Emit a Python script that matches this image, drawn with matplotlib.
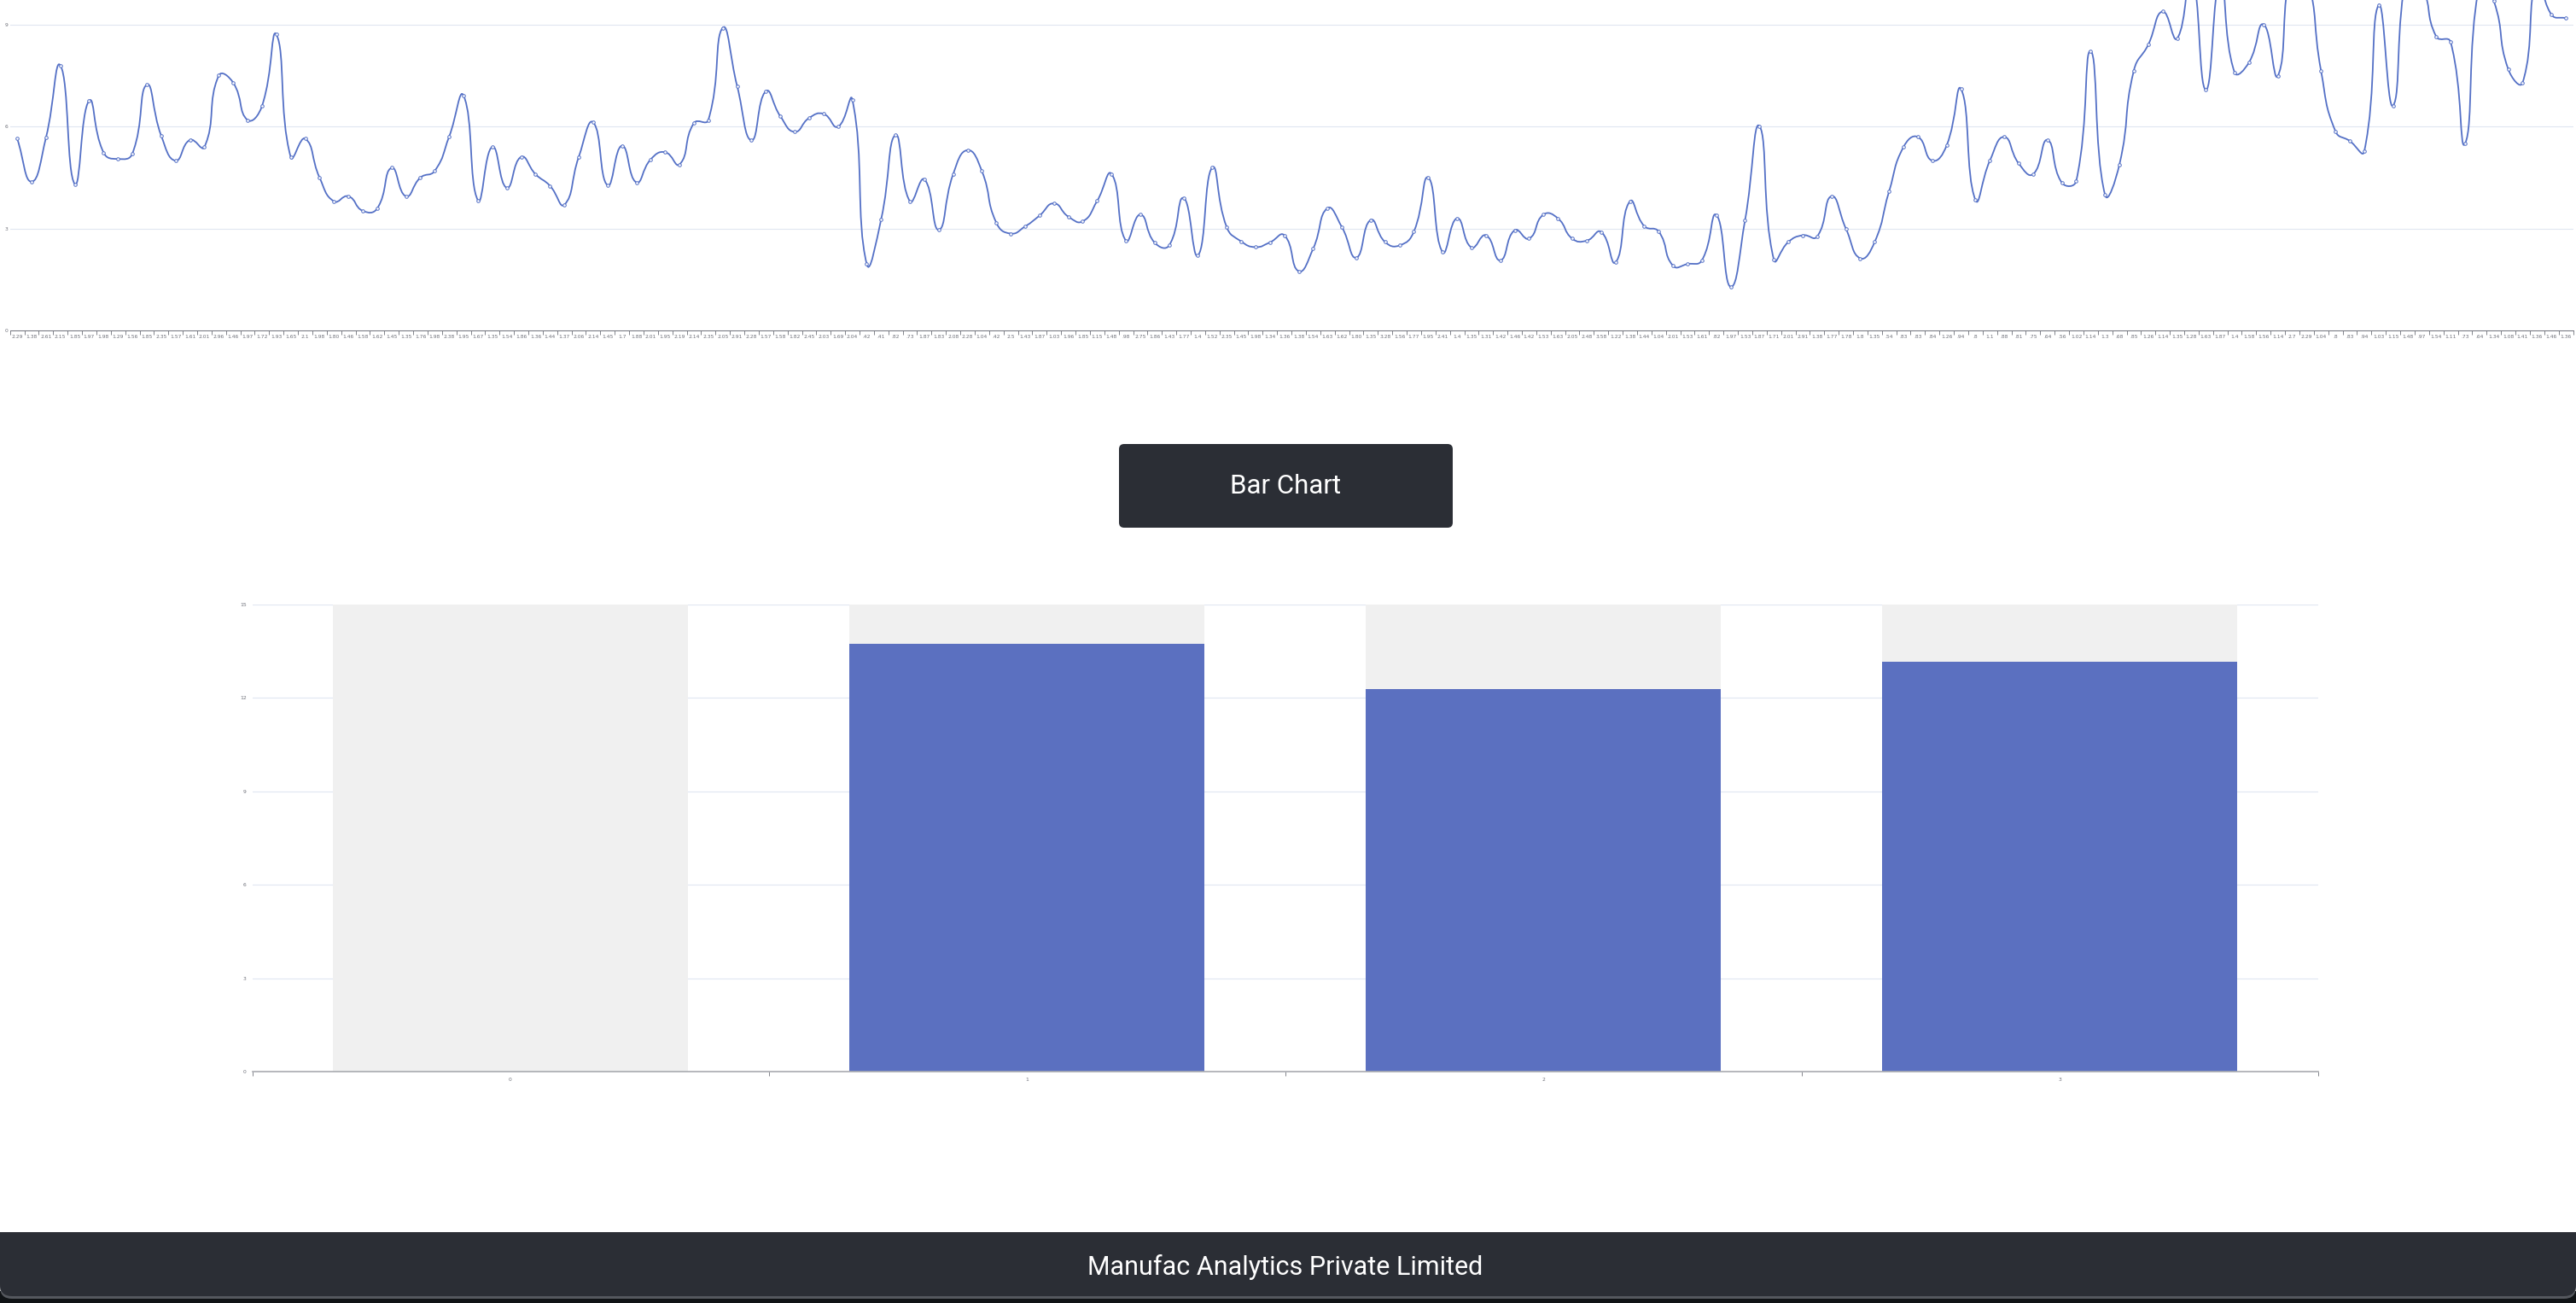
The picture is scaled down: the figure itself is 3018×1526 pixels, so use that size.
import numpy as np
import matplotlib
matplotlib.use("Agg")
import matplotlib.pyplot as plt
from matplotlib.path import Path
from matplotlib.patches import PathPatch, FancyBboxPatch, Rectangle

# line chart data (x categories are the labels under the axis)
line_labels = [
    "2.29", "1.38", "2.61", "2.15", "1.85", "1.97", "1.98", "1.29", "1.56", "1.85",
    "2.35", "1.57", "1.61", "2.01", "2.96", "1.46", "1.97", "1.72", "1.93", "1.65",
    "2.1", "1.98", "1.80", "1.46", "1.58", "1.62", "1.45", "1.35", "1.76", "1.98",
    "2.38", "1.95", "1.67", "1.35", "1.54", "1.86", "1.36", "1.44", "1.37", "2.06",
    "2.14", "1.45", "1.7", "1.88", "2.01", "1.95", "2.19", "2.14", "2.35", "2.05",
    "2.91", "2.28", "1.57", "1.58", "1.82", "2.45", "2.03", "1.69", "2.04", ".42",
    ".41", ".82", ".73", "1.87", "1.83", "2.08", "2.28", "1.04", ".42", "2.5",
    "1.43", "1.87", "1.03", "1.96", "1.85", "1.15", "1.48", ".98", "2.75", "1.86",
    "1.43", "1.77", "1.4", "1.52", "2.35", "1.45", "1.98", "1.34", "1.36", "1.38",
    "1.54", "1.63", "1.62", "1.80", "1.35", "3.28", "1.56", "1.77", "1.95", "2.41",
    "1.4", "1.35", "1.31", "1.42", "1.46", "1.42", "1.53", "1.63", "2.05", "2.48",
    "3.58", "1.22", "1.38", "1.44", "1.04", "2.01", "1.53", "1.61", ".82", "1.97",
    "1.53", "1.87", "1.71", "2.01", "2.91", "1.38", "1.77", "1.78", "1.8", "1.35",
    ".54", ".83", ".83", ".84", "1.26", ".94", ".8", "1.1", ".88", ".81",
    ".75", ".64", ".56", "1.02", "1.14", "1.3", ".68", ".85", "1.26", "1.14",
    "1.35", "1.28", "1.63", "1.87", "1.4", "1.58", "1.56", "1.14", "2.7", "2.29",
    "1.04", ".8", ".83", ".94", "1.03", "1.15", "1.48", ".97", "1.54", "1.11",
    ".73", ".64", "1.34", "1.08", "1.41", "1.36", "1.46", "1.36",
]
line_values = [
    5.65, 4.38, 5.68, 7.81, 4.31, 6.77, 5.24, 5.05, 5.21, 7.24,
    5.74, 5.00, 5.61, 5.40, 7.51, 7.30, 6.20, 6.61, 8.72, 5.10,
    5.65, 4.50, 3.80, 3.95, 3.52, 3.59, 4.79, 3.95, 4.50, 4.70,
    5.71, 6.92, 3.83, 5.41, 4.20, 5.11, 4.60, 4.26, 3.70, 5.11,
    6.13, 4.27, 5.44, 4.36, 5.04, 5.25, 4.89, 6.11, 6.20, 8.92,
    7.20, 5.60, 7.05, 6.31, 5.85, 6.26, 6.38, 6.00, 6.80, 1.95,
    3.27, 5.76, 3.80, 4.45, 2.96, 4.60, 5.31, 4.69, 3.17, 2.85,
    3.06, 3.38, 3.74, 3.35, 3.21, 3.81, 4.61, 2.64, 3.41, 2.58,
    2.50, 3.90, 2.20, 4.80, 3.04, 2.62, 2.45, 2.59, 2.80, 1.74,
    2.40, 3.60, 3.04, 2.14, 3.25, 2.60, 2.50, 2.91, 4.50, 2.30,
    3.30, 2.44, 2.80, 2.06, 2.95, 2.70, 3.41, 3.30, 2.70, 2.64,
    2.90, 2.00, 3.80, 3.07, 2.91, 1.90, 1.95, 2.06, 3.40, 1.28,
    3.25, 6.02, 2.08, 2.60, 2.80, 2.76, 3.95, 3.00, 2.12, 2.60,
    4.09, 5.40, 5.70, 5.00, 5.45, 7.11, 3.84, 5.00, 5.70, 4.92,
    4.60, 5.61, 4.35, 4.40, 8.23, 3.99, 4.89, 7.66, 8.42, 9.40,
    8.60, 10.5, 7.09, 10.3, 7.60, 7.90, 9.02, 7.50, 10.8, 10.5,
    7.65, 5.87, 5.58, 5.27, 9.59, 6.62, 10.6, 10.2, 8.66, 8.50,
    5.50, 10.2, 9.71, 7.70, 7.30, 10.4, 9.31, 9.20,
]

# bar chart data
bar_labels = ["0", "1", "2", "3"]
bar_values = [0, 13.74, 12.29, 13.15]
bar_max = 15

W, H = 3018, 1526
BLUE = "#5470c6"
AXIS = "#6E7079"
GRID = "#E0E6F1"
DARK = "#2b2e35"

fig = plt.figure(figsize=(W / 100, H / 100), dpi=100, facecolor="white")


def px_axes(left, top, right, bottom):
    # axes placed by pixel box (top/bottom measured from image top)
    return fig.add_axes([left / W, 1 - bottom / H, (right - left) / W, (bottom - top) / H])


def smooth_path(xs, ys, sx, sy, k=0.5):
    # bezier smoothing like echarts "smooth: true"
    p = np.column_stack([np.asarray(xs) * sx, np.asarray(ys) * sy])
    n = len(p)
    before, after = [], []
    for i in range(n):
        prev = p[max(i - 1, 0)]
        nxt = p[min(i + 1, n - 1)]
        cur = p[i]
        v = nxt - prev
        d0 = np.hypot(*(cur - prev))
        d1 = np.hypot(*(nxt - cur))
        s = d0 + d1
        if s > 0:
            d0, d1 = d0 / s, d1 / s
        before.append(cur - v * k * d0)
        after.append(cur + v * k * d1)
    verts = [p[0]]
    codes = [Path.MOVETO]
    for i in range(n - 1):
        verts += [after[i], before[i + 1], p[i + 1]]
        codes += [Path.CURVE4] * 3
    verts = np.array(verts) / [sx, sy]
    return Path(verts, codes)


# ---- top line chart (its upper part is cut off by the page) ----
ax1 = px_axes(11.7, 386.7 - 476.5, 3014.5, 386.7)
x = np.arange(len(line_values))
ax1.set_xlim(-0.5, len(line_values) - 0.5)
ax1.set_ylim(0, 12)
path = smooth_path(x, line_values, 16.87, 39.71)
ax1.add_patch(PathPatch(path, fill=False, edgecolor=BLUE, lw=1.3, zorder=3))
ax1.plot(x, line_values, ls="none", marker="o", ms=2.6, mfc="white", mec=BLUE, mew=0.7, zorder=4)
ax1.set_yticks([0, 3, 6, 9])
ax1.yaxis.grid(True, color=GRID, lw=0.8)
ax1.axhline(12, color=GRID, lw=0.8, zorder=0)
ax1.set_axisbelow(True)
ax1.set_xticks(x)
ax1.set_xticklabels(line_labels)
ax1.set_xticks(np.arange(-0.5, len(line_values)), minor=True)
ax1.tick_params(axis="x", which="major", length=0, pad=3.5, labelsize=4.3, labelcolor=AXIS)
ax1.tick_params(axis="x", which="minor", length=3.5, width=0.6, color=AXIS)
ax1.tick_params(axis="y", length=0, pad=1.5, labelsize=4.3, labelcolor=AXIS)
for side in ["top", "right", "left"]:
    ax1.spines[side].set_visible(False)
ax1.spines["bottom"].set_color(AXIS)
ax1.spines["bottom"].set_linewidth(0.7)

# ---- bar chart ----
ax2 = px_axes(295.5, 708, 2715.5, 1255)
bx = np.arange(len(bar_values))
ax2.set_xlim(-0.5, len(bar_values) - 0.5)
ax2.set_ylim(0, bar_max)
ax2.bar(bx, [bar_max] * len(bar_values), width=0.688, color="#f0f0f0", zorder=1)
ax2.bar(bx, bar_values, width=0.688, color="#5b70c0", zorder=2)
ax2.set_yticks(range(0, bar_max + 1, 3))
ax2.yaxis.grid(True, color=GRID, lw=0.8, zorder=0)
ax2.set_axisbelow(True)
ax2.set_xticks(bx)
ax2.set_xticklabels(bar_labels)
ax2.set_xticks(np.arange(-0.5, len(bar_values)), minor=True)
ax2.tick_params(axis="x", which="major", length=0, pad=5, labelsize=4.3, labelcolor=AXIS)
ax2.tick_params(axis="x", which="minor", length=3.5, width=0.6, color=AXIS)
ax2.tick_params(axis="y", length=0, pad=5, labelsize=4.3, labelcolor=AXIS)
for side in ["top", "right", "left"]:
    ax2.spines[side].set_visible(False)
ax2.spines["bottom"].set_color("#a9abb0")
ax2.spines["bottom"].set_linewidth(1.2)

# ---- page elements: button and footer, in pixel units ----
page = fig.add_axes([0, 0, 1, 1], zorder=-1)
page.set_xlim(0, W)
page.set_ylim(H, 0)
page.axis("off")
ui_font = ["Roboto", "DejaVu Sans"]

page.add_patch(FancyBboxPatch((1311, 520), 391, 98, boxstyle="round,pad=0,rounding_size=6",
                              fc=DARK, ec="none"))
page.text(1506.5, 570, "Bar Chart", color="white", fontsize=22.5, family=ui_font,
          weight="normal", ha="center", va="center")

page.add_patch(Rectangle((0, 1512), W, 14, fc="#101316", ec="none"))
page.add_patch(FancyBboxPatch((0, 1443), W, 78, boxstyle="round,pad=0,rounding_size=14",
                              fc="#55585e", ec="none"))
page.add_patch(FancyBboxPatch((0, 1443), W, 75, boxstyle="round,pad=0,rounding_size=14",
                              fc=DARK, ec="none"))
page.add_patch(Rectangle((0, 1443), W, 30, fc=DARK, ec="none"))
page.text(1506, 1484, "Manufac Analytics Private Limited", color="white", fontsize=22,
          family=ui_font, weight="normal", ha="center", va="center")

fig.savefig("out.png", dpi=100, facecolor="white")
